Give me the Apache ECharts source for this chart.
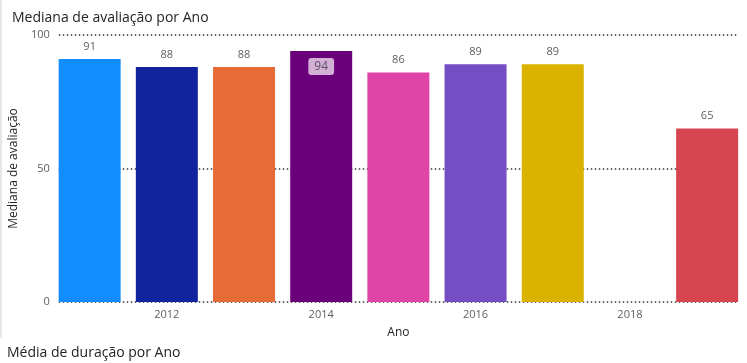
<!DOCTYPE html>
<html><head><meta charset="utf-8">
<script src="https://cdn.jsdelivr.net/npm/echarts@6/dist/echarts.min.js"></script>
<style>html,body{margin:0;padding:0;background:#fff}#c{width:747px;height:363px}</style>
</head><body><div id="c"></div>
<script>
const years = [2011, 2012, 2013, 2014, 2015, 2016, 2017, 2019];
const medianas = [91, 88, 88, 94, 86, 89, 89, 65];
const colors = ['#118DFF', '#12239E', '#E66C37', '#6B007B', '#E044A7', '#744EC2', '#D9B300', '#D64550'];
const xTickLabels = [2012, 2014, 2016, 2018];

const maxVal = Math.max(...medianas);
const data = years.map((y, i) => {
  const item = { value: [y, medianas[i]], itemStyle: { color: colors[i] } };
  if (medianas[i] === maxVal) {
    item.label = { position: 'insideTop', distance: 7, fontSize: 12, backgroundColor: '#D3B1D7', borderRadius: 3, padding: [3, 6, 2, 6], color: '#5E5060' };
  }
  return item;
});

const chart = echarts.init(document.getElementById('c'), null, { renderer: 'canvas' });
const font = "'Open Sans', 'Noto Sans', sans-serif";
chart.setOption({
  animation: false,
  textStyle: { fontFamily: font },
  title: [
    { text: 'Mediana de avaliação por Ano', left: 7, top: 6, textStyle: { fontSize: 14, fontWeight: 'normal', color: '#252423', fontFamily: font } },
    { text: 'Média de duração por Ano', left: 2, top: 341, textStyle: { fontSize: 14, fontWeight: 'normal', color: '#252423', fontFamily: font } }
  ],
  graphic: [{ type: 'rect', shape: { x: 0, y: 0, width: 2, height: 338 }, style: { fill: '#E6E6E6' } }],
  grid: { left: 56, right: 9, top: 35, bottom: 61, containLabel: false },
  xAxis: {
    type: 'value', min: 2010.6, max: 2019.4,
    name: 'Ano', nameLocation: 'middle', nameGap: 25,
    nameTextStyle: { fontSize: 12, color: '#252423', fontFamily: font },
    axisLine: { show: false }, axisTick: { show: false }, splitLine: { show: false },
    axisLabel: { customValues: xTickLabels, fontSize: 11, color: '#605E5C', margin: 7, formatter: v => String(v) }
  },
  yAxis: {
    type: 'value', min: 0, max: 100, interval: 50,
    name: 'Mediana de avaliação', nameLocation: 'middle', nameGap: 30, nameRotate: 90,
    nameTextStyle: { fontSize: 12, color: '#252423', fontFamily: font },
    axisLine: { show: false }, axisTick: { show: false },
    axisLabel: { fontSize: 11, color: '#605E5C', margin: 9 },
    splitLine: { show: true, lineStyle: { color: '#333', width: 1.5, type: [1.5, 2.5] } }
  },
  series: [{
    type: 'bar', data: data, barWidth: 62,
    label: { show: true, position: 'top', distance: 7, fontSize: 11, color: '#605E5C', formatter: p => p.value[1] }
  }]
});
</script></body></html>
